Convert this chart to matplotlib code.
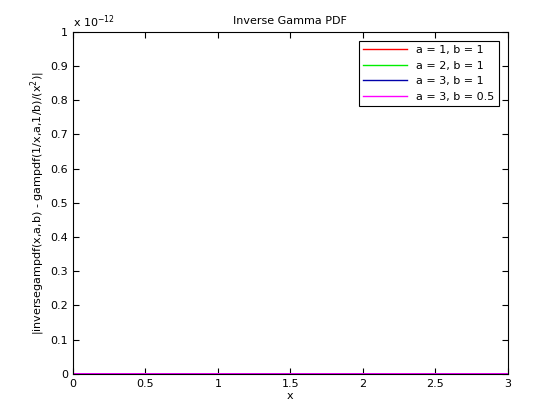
import numpy as np
import matplotlib
matplotlib.use('Agg')
import matplotlib.pyplot as plt

plt.rcParams.update({'font.family': 'DejaVu Sans', 'font.size': 8})

x = [0.01, 0.25, 0.5, 0.75, 1.0, 1.25, 1.5, 1.75, 2.0, 2.25, 2.5, 2.75, 3.0]
err_a1b1 = [0, 1e-16, 0, 2e-16, 0, 1e-16, 0, 0, 1e-16, 0, 0, 1e-16, 0]
err_a2b1 = [0, 0, 1e-16, 0, 2e-16, 0, 1e-16, 0, 0, 1e-16, 0, 0, 0]
err_a3b1 = [0, 2e-16, 0, 1e-16, 0, 0, 2e-16, 0, 1e-16, 0, 1e-16, 0, 0]
err_a3b05 = [0, 1e-16, 1e-16, 0, 1e-16, 0, 0, 1e-16, 0, 2e-16, 0, 1e-16, 0]
labels = ['a = 1, b = 1', 'a = 2, b = 1', 'a = 3, b = 1', 'a = 3, b = 0.5']
colors = ['#ff0000', '#00ee00', '#0000aa', '#ff00ff']

fig = plt.figure(figsize=(5.6, 4.2), dpi=100)
ax = fig.add_axes([0.130, 0.110, 0.777, 0.814])
for ys, lab, c in zip([err_a1b1, err_a2b1, err_a3b1, err_a3b05], labels, colors):
    ax.plot(x, np.array(ys), color=c, lw=1, label=lab)

ax.set_xlim(0, 3)
ax.set_ylim(0, 1e-12)
ax.set_xticks(np.arange(0, 3.01, 0.5))
ax.set_xticklabels(['0', '0.5', '1', '1.5', '2', '2.5', '3'])
ax.set_yticks(np.arange(0, 1.01e-12, 1e-13))
ax.set_yticklabels(['0', '0.1', '0.2', '0.3', '0.4', '0.5', '0.6', '0.7', '0.8', '0.9', '1'])
ax.tick_params(direction='in', top=True, right=True, length=4)
ax.text(0, 1.005, r'x 10$^{-12}$', transform=ax.transAxes, ha='left', va='bottom')
ax.set_title('Inverse Gamma PDF', fontsize=8)
ax.set_xlabel('x', labelpad=2)
ax.set_ylabel(r'|inversegampdf(x,a,b) - gampdf(1/x,a,1/b)/(x$^2$)|', labelpad=2)
leg = ax.legend(loc='upper right', fancybox=False, edgecolor='black', framealpha=1,
                handlelength=4, borderaxespad=0.8)
leg.get_frame().set_linewidth(0.8)

fig.savefig('out.png', dpi=100)
